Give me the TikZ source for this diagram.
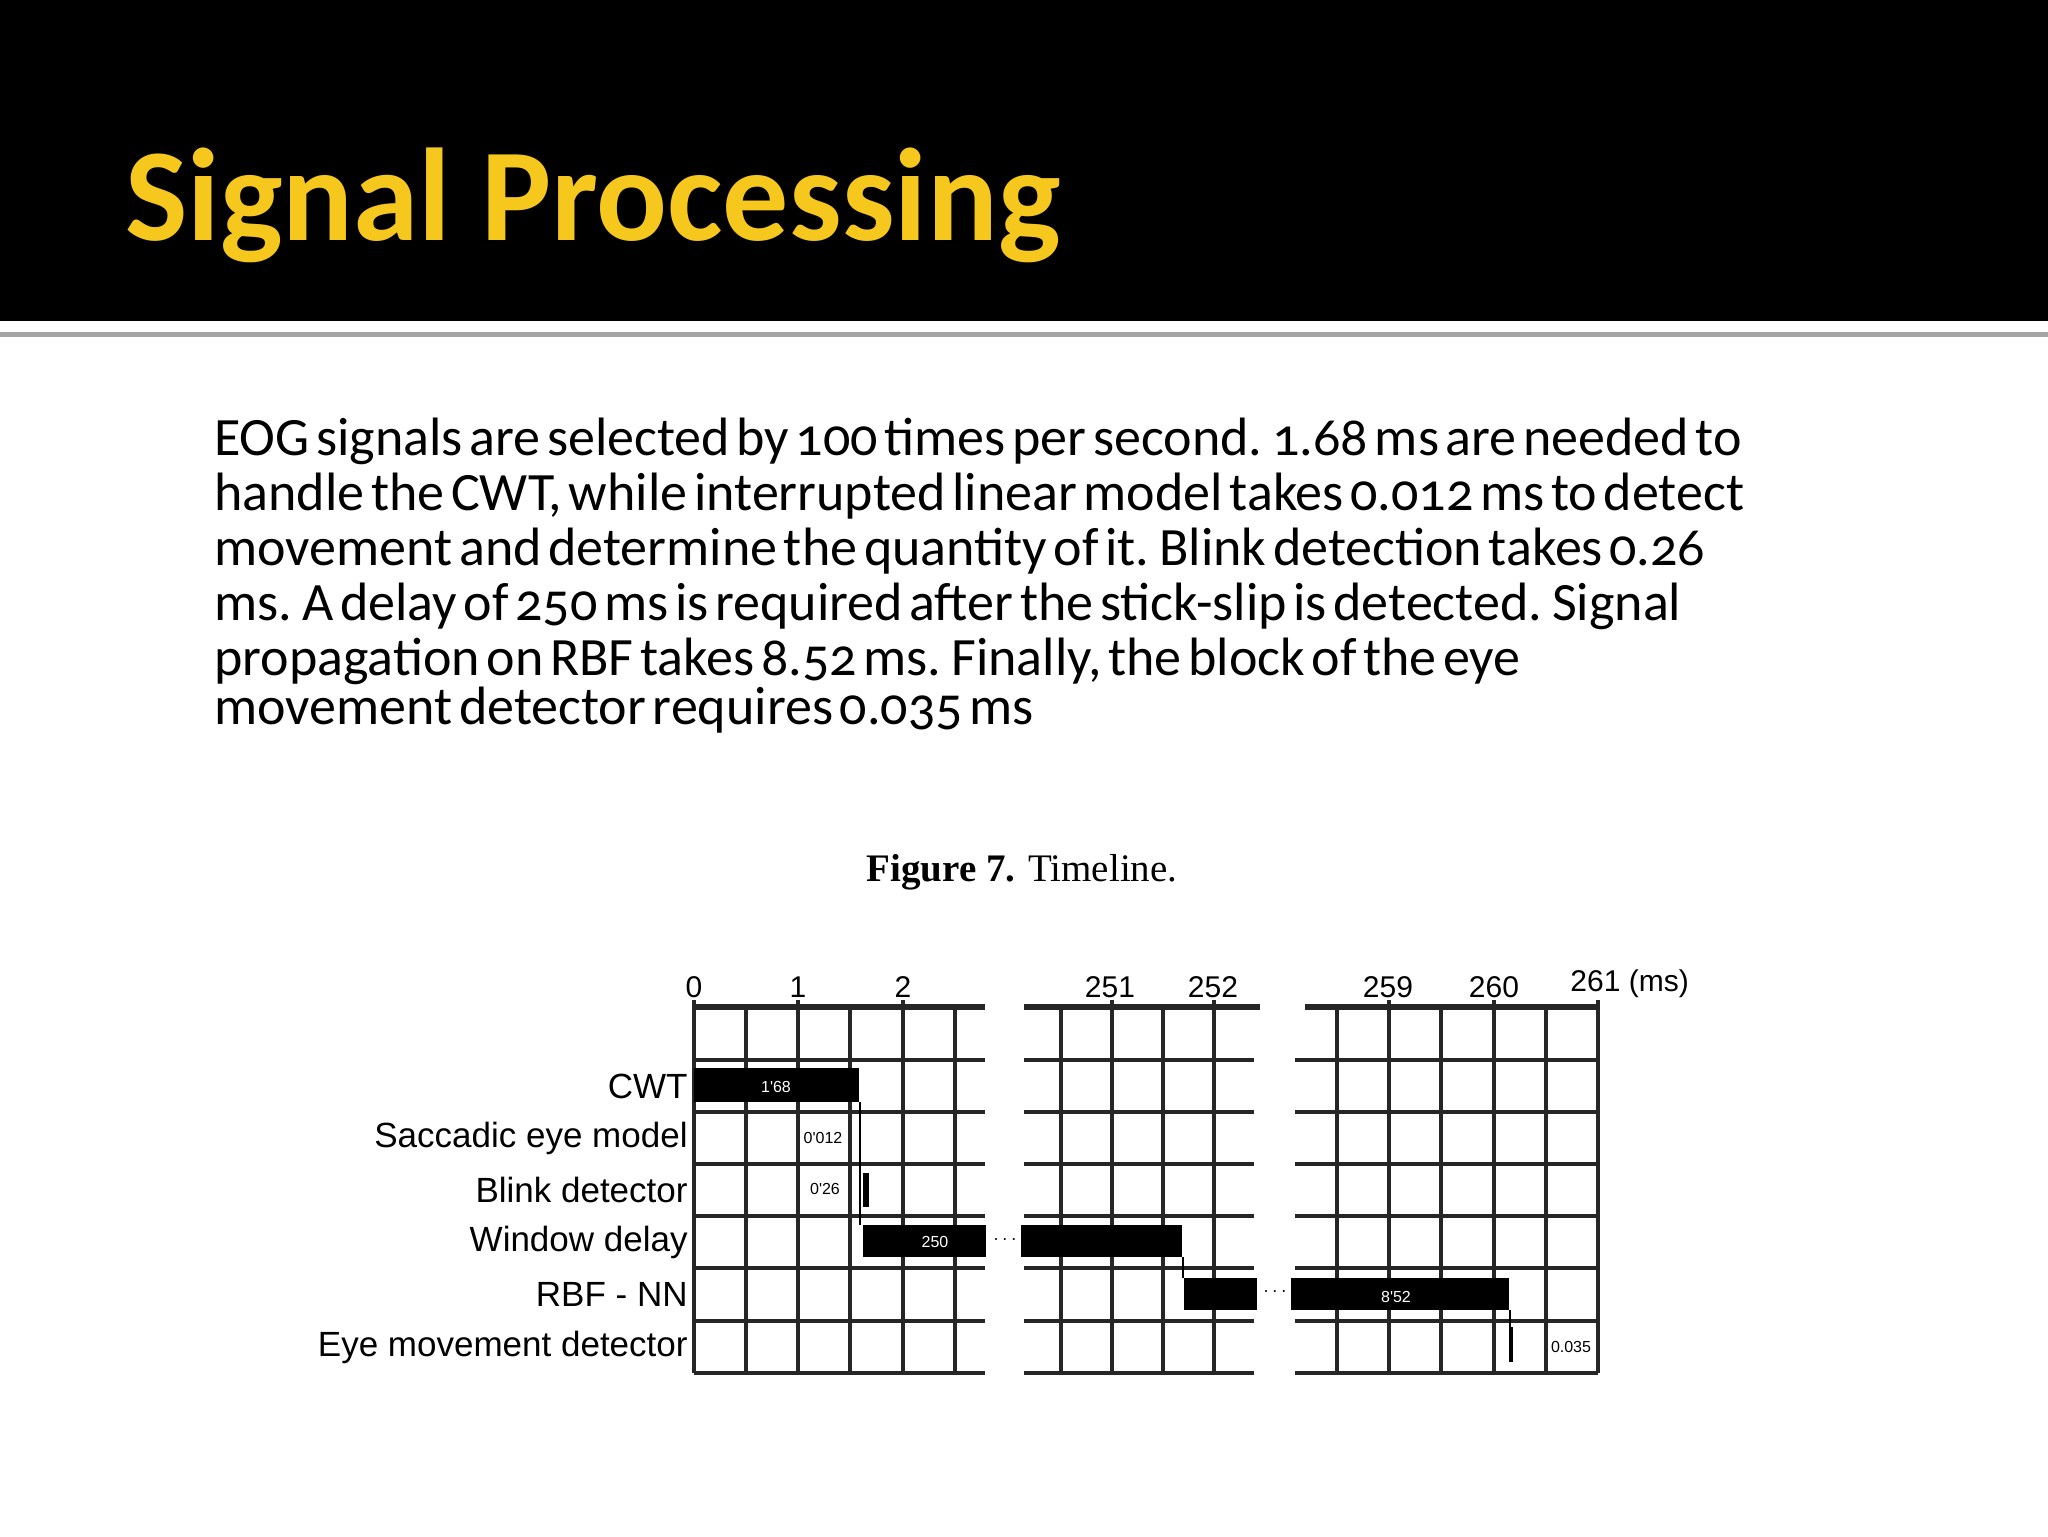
\documentclass[tikz,border=0pt]{standalone}
\usepackage{fontspec}
\setmainfont{Carlito}
\newfontfamily\bodyfont[Numbers=OldStyle]{Carlito}
\newfontfamily\arialf{Liberation Sans}
\newfontfamily\timesf{Liberation Serif}
\definecolor{titleyel}{RGB}{246,200,30}
\begin{document}
\begin{tikzpicture}[x=0.5pt,y=-0.5pt,
  grid/.style={line width=2.2pt,black!85},
  bar/.style={fill=black},
  rowlab/.style={anchor=east,font=\arialf\fontsize{17.5}{19}\selectfont,inner sep=0pt},
  tick/.style={anchor=south,font=\arialf\fontsize{15}{17}\selectfont,inner sep=0pt},
  val/.style={font=\arialf\fontsize{8}{9}\selectfont,inner sep=0pt}]
\useasboundingbox (0,0) rectangle (2048,1536);
\fill[black] (0,0) rectangle (2048,321);
\fill[gray!70] (0,332) rectangle (2048,337);
\node[anchor=base west,inner sep=0pt,text=titleyel,font=\fontsize{66}{70}\selectfont\bfseries] (title) at (125,240) {Signal Processing};
\node[anchor=north west,inner sep=0pt,text width=950pt,align=left] (body) at (214,418) {\bodyfont\fontsize{27}{27.5}\selectfont
EOG signals are selected by 100 times per second. 1.68 ms are needed to\\
handle the CWT, while interrupted linear model takes 0.012 ms to detect\\
movement and determine the quantity of it. Blink detection takes 0.26\\
ms. A delay of 250 ms is required after the stick-slip is detected. Signal\\
propagation on RBF takes 8.52 ms. Finally, the block of the eye\\
movement detector requires 0.035 ms};
\node[inner sep=0pt,font=\timesf\fontsize{19.5}{21}\selectfont] (cap) at (1022,872) {\textbf{Figure 7.} Timeline.};
% grid segments
\draw[grid,line width=2.8pt] (694,1007) -- (985,1007);
\draw[grid,line width=2.8pt] (1024,1007) -- (1260,1007);
\draw[grid,line width=2.8pt] (1305,1007) -- (1598,1007);
\foreach \xa/\xb in {694/985,1024/1254,1295/1598}{
  \foreach \y in {1060,1112,1164,1216,1268,1321,1373}
    \draw[grid] (\xa,\y) -- (\xb,\y);
}
\foreach \x in {694,746,798,850,903,955,1061,1112,1163,1214,1337,1389,1441,1494,1546,1598}
  \draw[grid] (\x,1007) -- (\x,1373);
\foreach \x in {694,798,903,1112,1214,1389,1494,1598}
  \draw[grid] (\x,1000) -- (\x,1007);
\node[tick] (t0) at (694,998) {0};
\node[tick] (t1) at (798,998) {1};
\node[tick] (t2) at (903,998) {2};
\node[tick] (t251) at (1110,998) {251};
\node[tick] (t252) at (1213,998) {252};
\node[tick] (t259) at (1388,998) {259};
\node[tick] (t260) at (1494,998) {260};
\node[tick,anchor=south west] (t261) at (1570,998) {261 (ms)};
% row labels
\node[rowlab] (l1) at (688,1086) {CWT};
\node[rowlab] (l2) at (688,1138) {Saccadic eye model};
\node[rowlab] (l3) at (688,1190) {Blink detector};
\node[rowlab] (l4) at (688,1242) {Window delay};
\node[rowlab] (l5) at (688,1294) {RBF - NN};
\node[rowlab] (l6) at (688,1347) {Eye movement detector};
% bars
\fill[bar] (694,1068) rectangle (859,1102);
\draw[line width=0.6pt] (860,1102) -- (860,1225);
\fill[bar] (863,1173) rectangle (869,1207);
\fill[bar] (863,1225) rectangle (986,1257);
\fill[bar] (1021,1225) rectangle (1182,1257);
\draw[line width=0.6pt] (1183,1257) -- (1183,1278);
\fill[bar] (1184,1278) rectangle (1257,1310);
\fill[bar] (1291,1278) rectangle (1509,1310);
\draw[line width=0.6pt] (1510,1310) -- (1510,1327);
\draw[line width=2.2pt] (1511,1327) -- (1511,1362);
\node[inner sep=0pt] (d1) at (1005,1240) {\arialf\fontsize{10}{10}\selectfont$\cdots$};
\node[inner sep=0pt] (d2) at (1275,1292) {\arialf\fontsize{10}{10}\selectfont$\cdots$};
\node[val,text=white] (v1) at (776,1087) {1'68};
\node[val] (v2) at (823,1138) {0'012};
\node[val] (v3) at (825,1189) {0'26};
\node[val,text=white] (v4) at (935,1242) {250};
\node[val,text=white] (v5) at (1396,1297) {8'52};
\node[val] (v6) at (1571,1347) {0.035};
\end{tikzpicture}
\end{document}
